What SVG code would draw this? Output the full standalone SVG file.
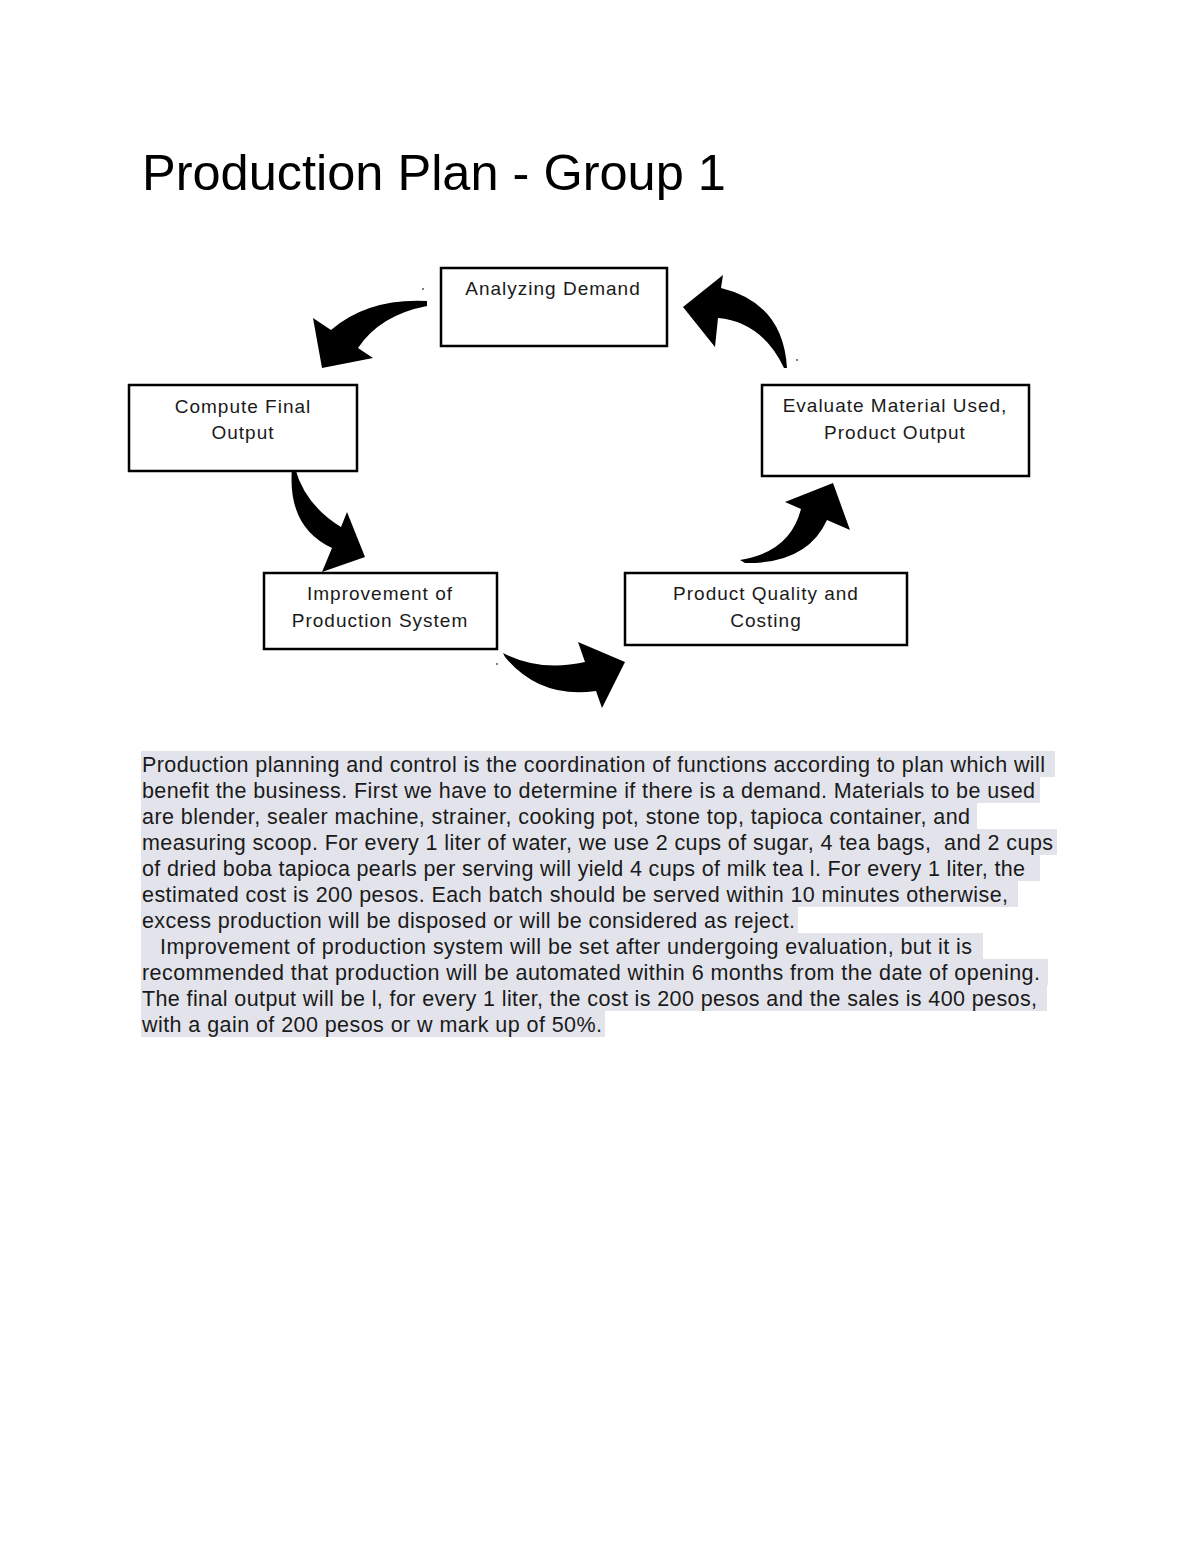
<svg xmlns="http://www.w3.org/2000/svg" width="1200" height="1553" viewBox="0 0 1200 1553">
<style>
.box{fill:#fff;stroke:#000;stroke-width:2.5}
.lbl{font-family:"Liberation Sans",Arial,sans-serif;font-size:19px;fill:#1a1a1a;text-anchor:middle;letter-spacing:1px}
.arr{fill:#000;stroke:none}
.hl{fill:#E3E4EB}
.para{font-family:"Liberation Sans",Arial,sans-serif;font-size:21.5px;fill:#1a1a1a;white-space:pre}
.title{font-family:"Liberation Sans",Arial,sans-serif;font-size:50.5px;fill:#000}
</style>
<rect width="1200" height="1553" fill="#fff"/>
<text class="title" x="142" y="190">Production Plan - Group 1</text>

<g id="connectors">
  <path class="arr" d="M427,301 Q368,298 331,330 L313,318 L322,368 L373,358 L358,348 Q380,315 427,306 Z"/>
  <path class="arr" d="M292,468 Q287,527 332,548 L322,572 L365,557 L347,512 L341,527 Q305,505 295,468 Z"/>
  <path class="arr" d="M503,653 Q540,672 585,662 L578,642 L625,662 L602,708 L596,691 Q540,699 505,657 Z"/>
  <path class="arr" d="M740,560 Q790,552 801,509 L785,502 L833,483 L850,530 L827,520 Q807,564 745,563 Z"/>
  <path class="arr" d="M787,368 Q783,303 721,288 L723,275 L683,307 L715,347 L718,318 Q762,322 784,368 Z"/>
  <circle cx="423" cy="289" r="0.9" fill="#444"/>
  <circle cx="797" cy="360" r="0.9" fill="#444"/>
  <circle cx="497" cy="664" r="0.9" fill="#444"/>
</g>

<g id="node-analyzing">
  <rect class="box" x="441" y="268" width="226" height="78"/>
  <text class="lbl" x="553" y="295">Analyzing Demand</text>
</g>
<g id="node-compute">
  <rect class="box" x="129" y="385" width="228" height="86"/>
  <text class="lbl" x="243" y="413">Compute Final</text>
  <text class="lbl" x="243" y="439">Output</text>
</g>
<g id="node-evaluate">
  <rect class="box" x="762" y="385" width="267" height="91"/>
  <text class="lbl" x="895" y="412">Evaluate Material Used,</text>
  <text class="lbl" x="895" y="439">Product Output</text>
</g>
<g id="node-improvement">
  <rect class="box" x="264" y="573" width="233" height="76"/>
  <text class="lbl" x="380" y="600">Improvement of</text>
  <text class="lbl" x="380" y="627">Production System</text>
</g>
<g id="node-quality">
  <rect class="box" x="625" y="573" width="282" height="72"/>
  <text class="lbl" x="766" y="600">Product Quality and</text>
  <text class="lbl" x="766" y="627">Costing</text>
</g>

<g id="paragraph">
  <rect class="hl" x="141" y="751" width="914" height="26"/>
  <rect class="hl" x="141" y="777" width="899" height="26"/>
  <rect class="hl" x="141" y="803" width="836" height="26"/>
  <rect class="hl" x="141" y="829" width="916" height="26"/>
  <rect class="hl" x="141" y="855" width="899" height="26"/>
  <rect class="hl" x="141" y="881" width="877" height="26"/>
  <rect class="hl" x="141" y="907" width="657" height="26"/>
  <rect class="hl" x="141" y="933" width="842" height="26"/>
  <rect class="hl" x="141" y="959" width="907" height="26"/>
  <rect class="hl" x="141" y="985" width="906" height="26"/>
  <rect class="hl" x="141" y="1011" width="464" height="26"/>
  <text class="para" x="142" y="772" textLength="903" lengthAdjust="spacing">Production planning and control is the coordination of functions according to plan which will</text>
  <text class="para" x="142" y="798" textLength="893" lengthAdjust="spacing">benefit the business. First we have to determine if there is a demand. Materials to be used</text>
  <text class="para" x="142" y="824" textLength="828" lengthAdjust="spacing">are blender, sealer machine, strainer, cooking pot, stone top, tapioca container, and</text>
  <text class="para" x="142" y="850" textLength="911" lengthAdjust="spacing">measuring scoop. For every 1 liter of water, we use 2 cups of sugar, 4 tea bags,  and 2 cups</text>
  <text class="para" x="142" y="876" textLength="883" lengthAdjust="spacing">of dried boba tapioca pearls per serving will yield 4 cups of milk tea l. For every 1 liter, the</text>
  <text class="para" x="142" y="902" textLength="866" lengthAdjust="spacing">estimated cost is 200 pesos. Each batch should be served within 10 minutes otherwise,</text>
  <text class="para" x="142" y="928" textLength="653" lengthAdjust="spacing">excess production will be disposed or will be considered as reject.</text>
  <text class="para" x="160" y="954" textLength="812" lengthAdjust="spacing">Improvement of production system will be set after undergoing evaluation, but it is</text>
  <text class="para" x="142" y="980" textLength="898" lengthAdjust="spacing">recommended that production will be automated within 6 months from the date of opening.</text>
  <text class="para" x="142" y="1006" textLength="895" lengthAdjust="spacing">The final output will be l, for every 1 liter, the cost is 200 pesos and the sales is 400 pesos,</text>
  <text class="para" x="142" y="1032" textLength="460" lengthAdjust="spacing">with a gain of 200 pesos or w mark up of 50%.</text>
</g>
</svg>
